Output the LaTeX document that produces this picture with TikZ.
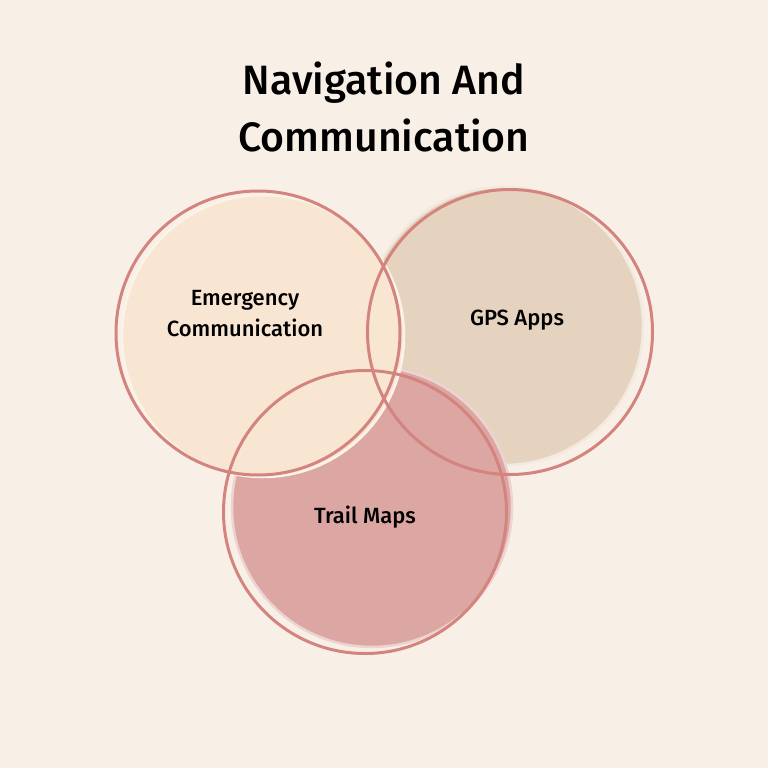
\documentclass[tikz,border=0pt]{standalone}
\usepackage{fontspec}
\setmainfont{Fira Sans}[BoldFont={Fira Sans Medium}]
\definecolor{bg}{HTML}{F8F0E6}
\definecolor{peach}{HTML}{F8E6D2}
\definecolor{beige}{HTML}{E5D3C0}
\definecolor{rose}{HTML}{DCA7A3}
\definecolor{ring}{HTML}{D4847F}
\begin{document}
\begin{tikzpicture}[x=1pt,y=-1pt,
  fillc/.style={line width=2.5pt},
  ringc/.style={draw=ring,line width=3pt},
  lbl/.style={font=\bfseries\fontsize{22}{31}\selectfont,align=center,text=black},
  ttl/.style={font=\bfseries\fontsize{41}{57}\selectfont,align=center,text=black}]
\fill[bg] (0,0) rectangle (768,768);
\useasboundingbox (0,0) rectangle (768,768);
% filled discs
\filldraw[fillc,fill=beige,draw=beige!50!white] (504,326) circle (139);
\filldraw[fillc,fill=rose,draw=rose!50!white] (372,507) circle (140);
\filldraw[fillc,fill=peach,draw=peach!50!white] (263,336) circle (141);
% outline rings
\node[circle,ringc,minimum size=284pt,inner sep=0pt] (emc) at (258,333) {};
\node[circle,ringc,minimum size=285pt,inner sep=0pt] (gps) at (510,332) {};
\node[circle,ringc,minimum size=283pt,inner sep=0pt] (trl) at (365,512) {};
% labels
\node[lbl] (temc) at (245,314) {Emergency\\Communication};
\node[lbl] (tgps) at (517,320) {GPS Apps};
\node[lbl] (ttrl) at (365,517) {Trail Maps};
\node[ttl] (title) at (384,107) {Navigation And\\Communication};
\end{tikzpicture}
\end{document}
